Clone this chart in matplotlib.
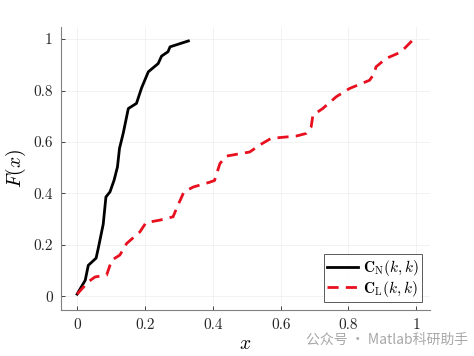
import numpy as np
import matplotlib.pyplot as plt

plt.rcParams['mathtext.fontset'] = 'cm'
plt.rcParams['font.family'] = 'serif'
plt.rcParams['font.serif'] = ['cmr10']
plt.rcParams['axes.formatter.use_mathtext'] = True

# C_N(k,k) empirical CDF
xN = [0.0, 0.024, 0.033, 0.056, 0.063, 0.077, 0.085, 0.097, 0.109, 0.119,
      0.125, 0.136, 0.151, 0.175, 0.19, 0.21, 0.239, 0.249, 0.268, 0.274, 0.328]
yN = [0.008, 0.062, 0.12, 0.148, 0.19, 0.28, 0.386, 0.406, 0.451, 0.503,
      0.575, 0.634, 0.73, 0.75, 0.81, 0.873, 0.905, 0.934, 0.951, 0.97, 0.993]

# C_L(k,k) empirical CDF
xL = [0.0, 0.033, 0.053, 0.087, 0.102, 0.126, 0.146, 0.185, 0.203, 0.244,
      0.283, 0.293, 0.315, 0.343, 0.39, 0.405, 0.421, 0.44, 0.509, 0.538,
      0.572, 0.646, 0.675, 0.69, 0.695, 0.724, 0.764, 0.803, 0.862, 0.876,
      0.881, 0.911, 0.95, 0.965, 0.989]
yL = [0.008, 0.056, 0.075, 0.082, 0.14, 0.16, 0.205, 0.25, 0.286, 0.296,
      0.309, 0.341, 0.406, 0.425, 0.443, 0.45, 0.516, 0.545, 0.561, 0.588,
      0.614, 0.623, 0.633, 0.659, 0.704, 0.73, 0.776, 0.808, 0.84, 0.866,
      0.892, 0.925, 0.947, 0.964, 0.996]

xticks = [0, 0.2, 0.4, 0.6, 0.8, 1]
yticks = [0, 0.2, 0.4, 0.6, 0.8, 1]

fig = plt.figure(figsize=(4.74, 3.56), dpi=100)
ax = fig.add_axes([0.129, 0.129, 0.778, 0.795])

ax.plot(xN, yN, '-', color='black', lw=2.0, label=r'$\mathbf{C}_{\mathrm{N}}(k,k)$')
ax.plot(xL, yL, '--', color='#e8101e', lw=2.0, dashes=(4, 2.6),
        label=r'$\mathbf{C}_{\mathrm{L}}(k,k)$')

ax.set_xlim(-0.047, 1.04)
ax.set_ylim(-0.054, 1.047)
ax.set_xticks(xticks)
ax.set_xticklabels(['0', '0.2', '0.4', '0.6', '0.8', '1'])
ax.set_yticks(yticks)
ax.set_yticklabels(['0', '0.2', '0.4', '0.6', '0.8', '1'])
ax.tick_params(direction='in', length=3, width=0.6, colors='#262626',
               labelsize=11, pad=6)
ax.spines['top'].set_visible(False)
ax.spines['right'].set_visible(False)
for s in ['left', 'bottom']:
    ax.spines[s].set_color('#808080')
    ax.spines[s].set_linewidth(0.8)
ax.grid(True, color='#f0f0f0', lw=0.6)
ax.set_axisbelow(True)

ax.set_xlabel(r'$x$', fontsize=14, labelpad=2)
ax.set_ylabel(r'$F(x)$', fontsize=14, labelpad=4)

leg = ax.legend(loc='lower right', fontsize=11, frameon=True, fancybox=False,
                edgecolor='#303030', handlelength=2.0, borderpad=0.25,
                labelspacing=0.05, handletextpad=0.3, borderaxespad=0.5)
leg.get_frame().set_linewidth(0.7)

fig.text(0.645, 0.035, '公众号 · Matlab科研助手', fontsize=10, color='#a8a8a8',
         family=['Noto Sans CJK SC', 'DejaVu Sans'])

fig.savefig('out.png', dpi=100)
